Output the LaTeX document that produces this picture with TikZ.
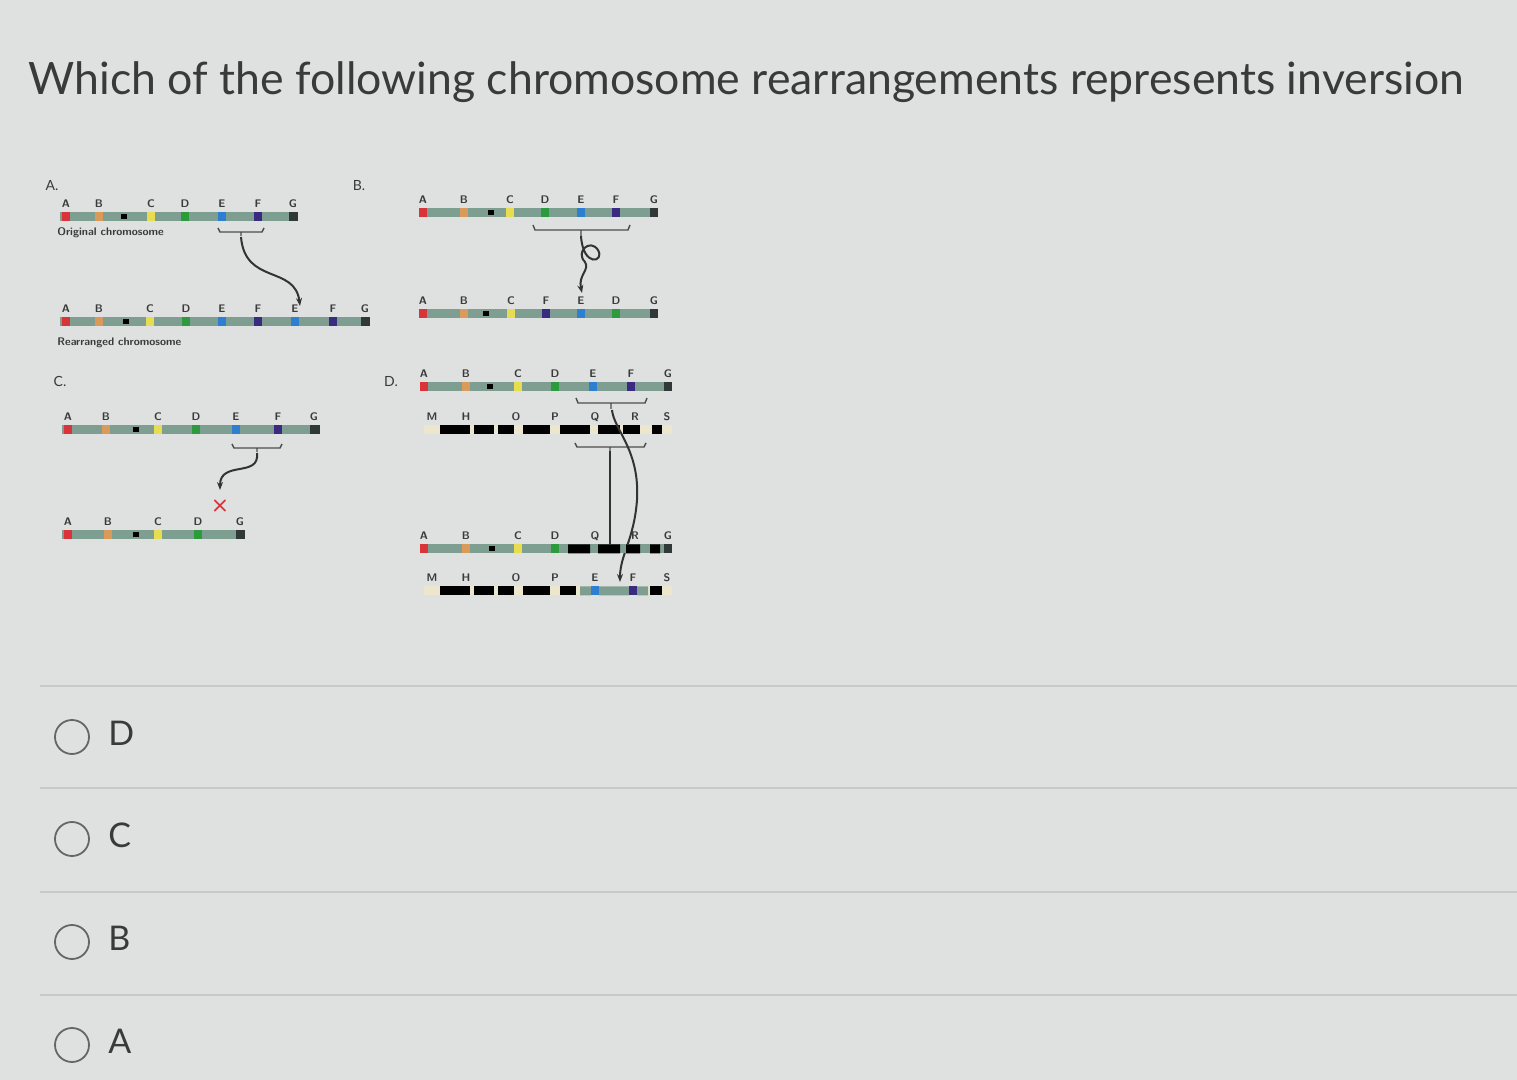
\documentclass[tikz,border=0pt]{standalone}
\usepackage{fontspec}
\setmainfont{Lato}
\usetikzlibrary{arrows.meta}
\definecolor{bg}{HTML}{DFE1E0}
\definecolor{bar}{HTML}{7F9E92}
\definecolor{cr}{HTML}{D8343A}
\definecolor{co}{HTML}{D99A5A}
\definecolor{cy}{HTML}{E8DC50}
\definecolor{cg}{HTML}{2E9A3E}
\definecolor{cb}{HTML}{2F7FD0}
\definecolor{cp}{HTML}{3A2A80}
\definecolor{cd}{HTML}{303838}
\definecolor{pale}{HTML}{ECE6CC}
\definecolor{txt}{HTML}{3A3A3A}
\definecolor{sep}{HTML}{C8CACA}
\tikzset{x=0.5pt,y=-0.5pt,
 gl/.style={font=\sffamily\bfseries\fontsize{5.5}{6}\selectfont,text=txt,inner sep=0},
 captxt/.style={font=\sffamily\bfseries\fontsize{5.5}{6}\selectfont,text=txt,inner sep=0,anchor=west},
 lbl/.style={font=\fontsize{7}{8}\selectfont,text=txt,inner sep=0},
 arr/.style={draw=black!80,line width=1pt,-{Stealth[length=4pt]}},
 brc/.style={draw=black!70,line width=0.7pt},
 opt/.style={font=\fontsize{17}{20}\selectfont,text=txt,inner sep=0,anchor=west},
 radio/.style={draw=black!60,line width=0.9pt,circle,minimum size=17pt,inner sep=0}}
\newcommand{\chrom}[4]{% y, x0, x1, bands x/color/label
 \fill[bar] (#2,#1-4.5) rectangle (#3,#1+4.5);
 \foreach \bx/\bc/\bl in {#4}{
  \fill[\bc] (\bx-4,#1-4.5) rectangle (\bx+4,#1+4.5);
  \node[gl] at (\bx,#1-13) {\bl};}
 \fill[cd] (#3-6,#1-4.5) rectangle (#3,#1+4.5);}
\newcommand{\cen}[2]{\fill[black] (#2-3,#1-2.5) rectangle (#2+3,#1+2.5);}
\newcommand{\blk}[4]{% y, x0, x1, blocks a/b
 \fill[pale] (#2,#1-4.5) rectangle (#3,#1+4.5);
 \foreach \a/\b in {#4}{\fill[black] (\a,#1-4.5) rectangle (\b,#1+4.5);}}
\begin{document}
\begin{tikzpicture}
\fill[bg] (0,0) rectangle (1517,1080);
\useasboundingbox (0,0) rectangle (1517,1080);
\node[font=\fontsize{22.3}{26}\selectfont,text=txt,anchor=west,inner sep=0] (title) at (28,82) {Which of the following chromosome rearrangements represents inversion};
% A
\node[lbl] (la) at (52,186) {A.};
\chrom{217}{60}{298}{66/cr/A,99/co/B,151/cy/C,185/cg/D,222/cb/E,258/cp/F,293/cd/G}\cen{217}{124}
\node[captxt] (oc) at (57,233) {Original chromosome};
\draw[brc] (218,228) -- (220,232) -- (262,232) -- (264,228) (241,232) -- (241,236);
\coordinate (a1) at (241,237);\coordinate (a2) at (300,306);
\draw[arr] (a1) .. controls (245,285) and (295,265) .. (a2);
\chrom{322}{60}{370}{66/cr/A,99/co/B,150/cy/C,186/cg/D,222/cb/E,258/cp/F,295/cb/E,333/cp/F,365/cd/G}\cen{322}{126}
\node[captxt] (rc) at (57,343) {Rearranged chromosome};
% C
\node[lbl] (lc) at (60,381) {C.};
\chrom{430}{62}{320}{68/cr/A,106/co/B,158/cy/C,196/cg/D,236/cb/E,278/cp/F,314/cd/G}\cen{430}{136}
\draw[brc] (232,444) -- (234,448) -- (280,448) -- (282,444) (257,448) -- (257,452);
\coordinate (c1) at (257,453);\coordinate (c2) at (220,490);
\draw[arr] (c1) .. controls (260,478) and (220,460) .. (c2);
\node[font=\sffamily\bfseries\fontsize{11}{11}\selectfont,text=cr,inner sep=0] (x) at (220,506) {\texttimes};
\chrom{535}{62}{245}{68/cr/A,108/co/B,158/cy/C,198/cg/D,240/cd/G}\cen{535}{136}
% B
\node[lbl] (lb) at (359,186) {B.};
\chrom{213}{419}{658}{423/cr/A,464/co/B,510/cy/C,545/cg/D,581/cb/E,616/cp/F,654/cd/G}\cen{213}{491}
\draw[brc] (533,225) -- (535,230) -- (628,230) -- (630,225) (581,230) -- (581,236);
\coordinate (b1) at (581,236);\coordinate (b2) at (582,293);
\draw[arr] (b1) .. controls (583,268) and (605,262) .. (598,250) .. controls (590,238) and (575,252) .. (585,262) .. controls (590,270) and (578,275) .. (b2);
\chrom{314}{419}{658}{423/cr/A,464/co/B,511/cy/C,546/cp/F,581/cb/E,616/cg/D,654/cd/G}\cen{314}{486}
% D
\node[lbl] (ld) at (391,382) {D.};
\chrom{387}{421}{672}{424/cr/A,466/co/B,518/cy/C,555/cg/D,593/cb/E,631/cp/F,668/cd/G}\cen{387}{490}
\draw[brc] (576,398) -- (578,403) -- (645,403) -- (647,398) (611,403) -- (611,409);
\blk{430}{424}{672}{440/470,474/494,498/514,523/550,560/590,598/620,623/640,652/662}
\foreach \bx/\bl in {432/M,466/H,516/O,555/P,595/Q,635/R,667/S}{\node[gl] at (\bx,417) {\bl};}
\draw[brc] (575,443) -- (577,447) -- (644,447) -- (646,443) (610,447) -- (610,451);
\coordinate (d1) at (610,451);\coordinate (d2) at (610,553);
\draw[arr] (d1) -- (d2);
\coordinate (d3) at (612,410);\coordinate (d4) at (620,582);
\draw[arr] (d3) .. controls (614,430) and (640,450) .. (637,500) .. controls (634,540) and (620,555) .. (d4);
\chrom{549}{421}{672}{424/cr/A,466/co/B,518/cy/C,555/cg/D,668/cd/G}\cen{549}{492}
\fill[black] (568,544.5) rectangle (590,553.5) (598,544.5) rectangle (620,553.5) (626,544.5) rectangle (640,553.5) (650,544.5) rectangle (660,553.5);
\foreach \bx/\bl in {595/Q,635/R}{\node[gl] at (\bx,536) {\bl};}
\blk{591}{424}{672}{440/470,474/494,498/514,523/550,560/576,650/662}
\fill[bar] (599,586.5) rectangle (629,595.5) (580,586.5) rectangle (591,595.5) (637,586.5) rectangle (648,595.5);
\fill[cb] (591,586.5) rectangle (599,595.5);\fill[cp] (629,586.5) rectangle (637,595.5);
\foreach \bx/\bl in {432/M,466/H,516/O,555/P,595/E,633/F,667/S}{\node[gl] at (\bx,578) {\bl};}
% options
\foreach \yy in {686,788,892,995}{\draw[sep,line width=0.6pt] (40,\yy) -- (1517,\yy);}
\foreach \yy/\tt/\nm in {737/D/od,839/C/oc2,942/B/ob,1045/A/oa}{
 \node[radio] (r\nm) at (72,\yy) {};
 \node[opt] (\nm) at (108,\yy-4) {\tt};}
\end{tikzpicture}
\end{document}
